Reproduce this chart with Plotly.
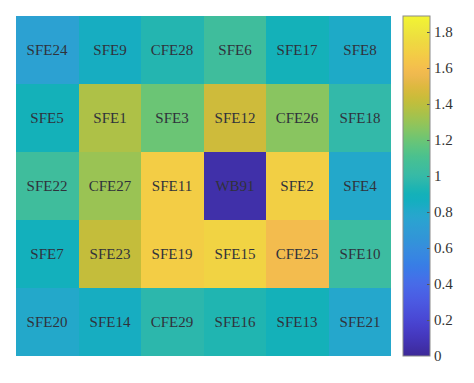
import plotly.graph_objects as go

# Cell labels, top row first
labels = [
    ["SFE24", "SFE9", "CFE28", "SFE6", "SFE17", "SFE8"],
    ["SFE5", "SFE1", "SFE3", "SFE12", "CFE26", "SFE18"],
    ["SFE22", "CFE27", "SFE11", "WB91", "SFE2", "SFE4"],
    ["SFE7", "SFE23", "SFE19", "SFE15", "CFE25", "SFE10"],
    ["SFE20", "SFE14", "CFE29", "SFE16", "SFE13", "SFE21"],
]
# Cell values, top row first
values = [
    [0.74, 0.85, 0.95, 1.05, 0.90, 0.82],
    [0.90, 1.36, 1.20, 1.45, 1.27, 0.99],
    [1.05, 1.31, 1.68, 0.05, 1.69, 0.80],
    [0.88, 1.42, 1.68, 1.71, 1.59, 1.03],
    [0.80, 0.85, 0.97, 0.94, 0.90, 0.79],
]
zmin, zmax = 0, 1.89
tick_vals = [0, 0.2, 0.4, 0.6, 0.8, 1, 1.2, 1.4, 1.6, 1.8]

parula = [
    (0.2422, 0.1504, 0.6603), (0.2504, 0.1650, 0.7076), (0.2578, 0.1818, 0.7511),
    (0.2647, 0.1978, 0.7952), (0.2706, 0.2147, 0.8364), (0.2751, 0.2342, 0.8710),
    (0.2783, 0.2559, 0.8991), (0.2803, 0.2782, 0.9221), (0.2813, 0.3006, 0.9414),
    (0.2810, 0.3228, 0.9579), (0.2795, 0.3447, 0.9717), (0.2760, 0.3667, 0.9829),
    (0.2699, 0.3892, 0.9906), (0.2602, 0.4123, 0.9952), (0.2440, 0.4358, 0.9988),
    (0.2206, 0.4603, 0.9973), (0.1963, 0.4847, 0.9892), (0.1834, 0.5074, 0.9798),
    (0.1786, 0.5289, 0.9682), (0.1764, 0.5499, 0.9520), (0.1687, 0.5703, 0.9359),
    (0.1540, 0.5902, 0.9218), (0.1460, 0.6091, 0.9079), (0.1380, 0.6276, 0.8973),
    (0.1248, 0.6459, 0.8883), (0.1113, 0.6635, 0.8763), (0.0952, 0.6798, 0.8598),
    (0.0689, 0.6948, 0.8394), (0.0297, 0.7082, 0.8163), (0.0036, 0.7203, 0.7917),
    (0.0067, 0.7312, 0.7660), (0.0433, 0.7411, 0.7394), (0.0964, 0.7500, 0.7120),
    (0.1408, 0.7584, 0.6842), (0.1717, 0.7670, 0.6554), (0.1938, 0.7758, 0.6251),
    (0.2161, 0.7843, 0.5923), (0.2470, 0.7918, 0.5567), (0.2906, 0.7973, 0.5188),
    (0.3406, 0.8008, 0.4789), (0.3909, 0.8029, 0.4354), (0.4456, 0.8024, 0.3909),
    (0.5044, 0.7993, 0.3480), (0.5616, 0.7942, 0.3045), (0.6174, 0.7876, 0.2612),
    (0.6720, 0.7793, 0.2227), (0.7242, 0.7698, 0.1910), (0.7738, 0.7598, 0.1646),
    (0.8203, 0.7498, 0.1535), (0.8634, 0.7406, 0.1596), (0.9035, 0.7330, 0.1774),
    (0.9393, 0.7288, 0.2100), (0.9728, 0.7298, 0.2394), (0.9956, 0.7434, 0.2371),
    (0.9970, 0.7659, 0.2199), (0.9952, 0.7893, 0.2028), (0.9892, 0.8136, 0.1885),
    (0.9786, 0.8386, 0.1766), (0.9676, 0.8639, 0.1643), (0.9610, 0.8890, 0.1537),
    (0.9597, 0.9135, 0.1423), (0.9628, 0.9373, 0.1265), (0.9691, 0.9606, 0.1064),
    (0.9769, 0.9839, 0.0805),
]


def soften(rgb, s=0.86, k=0.99):
    gray = 0.3 * rgb[0] + 0.59 * rgb[1] + 0.11 * rgb[2]
    return tuple(
        max(0, min(255, round(255 * k * (gray + s * (c - gray))))) for c in rgb
    )


n = len(parula)
colorscale = [
    [i / (n - 1), "rgb(%d,%d,%d)" % soften(rgb)] for i, rgb in enumerate(parula)
]

fig = go.Figure(
    go.Heatmap(
        z=values,
        text=labels,
        texttemplate="%{text}",
        textfont=dict(family="Liberation Serif", size=15, color="#30323b"),
        colorscale=colorscale,
        zmin=zmin,
        zmax=zmax,
        hoverinfo="skip",
        colorbar=dict(
            x=1.032,
            xanchor="left",
            y=0.5,
            yanchor="middle",
            len=1,
            lenmode="fraction",
            thickness=27,
            xpad=0,
            ypad=0,
            outlinecolor="#8a8a8a",
            outlinewidth=1,
            tickvals=tick_vals,
            ticktext=[("%g" % v) for v in tick_vals],
            ticks="inside",
            ticklen=3,
            tickcolor="#555555",
            tickfont=dict(family="Liberation Serif", size=15, color="#333333"),
        ),
    )
)
fig.update_xaxes(visible=False)
fig.update_yaxes(visible=False, autorange="reversed")
fig.update_layout(
    width=466,
    height=375,
    margin=dict(l=8, r=83, t=8, b=27, autoexpand=False),
    paper_bgcolor="white",
    plot_bgcolor="white",
)
fig.write_html("out.html")
